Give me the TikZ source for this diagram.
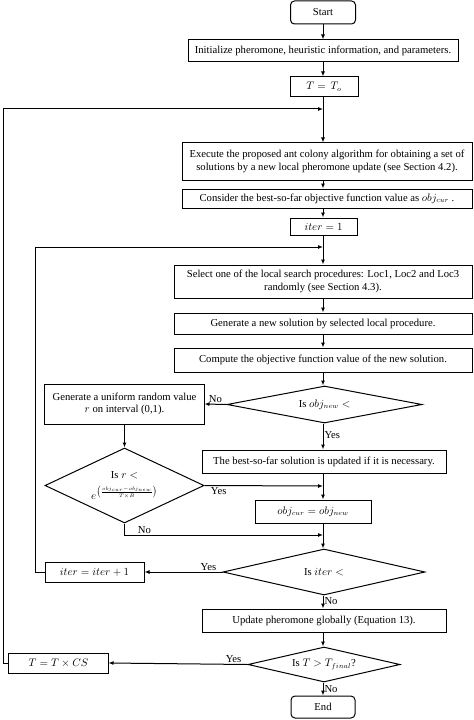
\documentclass[tikz,border=0pt]{standalone}
\usepackage{fontspec}
\setmainfont{Liberation Serif}
\usetikzlibrary{shapes.geometric,arrows.meta}
\begin{document}
\begin{tikzpicture}[x=1bp,y=-1bp,
  every node/.style={font=\fontsize{10.7}{12.5}\selectfont},
  box/.style={draw,line width=1bp,rectangle,inner sep=1bp,align=center},
  term/.style={box,rounded corners=4bp},
  dec/.style={draw,line width=1bp,diamond,inner sep=0pt,align=center},
  lab/.style={inner sep=1bp},
  conn/.style={line width=1bp,-{Latex[length=5bp,width=4bp]}},
  ln/.style={line width=1bp}]
\useasboundingbox (0,0) rectangle (474,720);
\node[term,minimum width=65bp,minimum height=23bp] (start) at (323,12.5) {Start};
\node[box,minimum width=270bp,minimum height=22bp] (init) at (323,51) {Initialize pheromone, heuristic information, and parameters.};
\node[box,minimum width=68bp,minimum height=20bp] (t0) at (324,87) {$T=\,T_o$};
\node[box,minimum width=290bp,minimum height=37bp] (exec) at (327,161.5) {Execute the proposed ant colony algorithm for obtaining a set of\\solutions by a new local pheromone update (see Section 4.2).};
\node[box,minimum width=290bp,minimum height=19bp] (cons) at (327,198.5) {Consider the best-so-far objective function value as $obj_{cur}$ .};
\node[box,minimum width=67bp,minimum height=17bp] (it1) at (323.5,226.5) {$iter=1$};
\node[box,minimum width=298bp,minimum height=33bp] (sel) at (323,281.5) {Select one of the local search procedures: Loc1, Loc2 and Loc3\\randomly (see Section 4.3).};
\node[box,minimum width=298bp,minimum height=21bp] (gen) at (323,323.5) {Generate a new solution by selected local procedure.};
\node[box,minimum width=298bp,minimum height=24bp] (comp) at (323,360) {Compute the objective function value of the new solution.};
\node[dec,aspect=5.3,minimum width=195bp,minimum height=37bp] (d1) at (324.5,404.5) {Is $obj_{new}<$};
\node[box,minimum width=159bp,minimum height=40bp] (uni) at (124.5,404) {Generate a uniform random value\\$r$ on interval (0,1).};
\node[dec,aspect=2.1,minimum width=159bp,minimum height=75bp] (d2) at (124.5,485.5) {Is $r<$\\[6bp]$e^{\left(\frac{obj_{cur}-obj_{new}}{\rule{0pt}{5bp}T\times B}\right)}$};
\node[box,minimum width=244bp,minimum height=23bp] (best) at (324,461.5) {The best-so-far solution is updated if it is necessary.};
\node[box,minimum width=116bp,minimum height=23bp] (oc) at (313,511.5) {$obj_{cur}=obj_{new}$};
\node[dec,aspect=4.4,minimum width=202bp,minimum height=46bp] (d3) at (324,572) {Is $iter<$};
\node[box,minimum width=99bp,minimum height=20bp] (itp) at (94.5,572) {$iter=iter+1$};
\node[box,minimum width=244bp,minimum height=23bp] (upd) at (324,620.5) {Update pheromone globally (Equation 13).};
\node[dec,aspect=4.3,minimum width=152bp,minimum height=35bp] (d4) at (324,664.5) {Is $T>T_{final}$?};
\node[box,minimum width=99bp,minimum height=20bp] (tcs) at (58.5,663) {$T=T\times CS$};
\node[term,minimum width=64bp,minimum height=22bp] (end) at (323,707) {End};
% coordinates
\coordinate (j1) at (323,109);
\coordinate (j2) at (323,247);
\coordinate (j3) at (323,486);
\coordinate (j4) at (323,535);
\coordinate (l1) at (3,663);
\coordinate (l1t) at (3,109);
\coordinate (l2) at (35,572);
\coordinate (l2t) at (35,247);
\coordinate (d2b) at (124.5,535);
% main flow
\draw[conn] (start.south -| j1) -- (init.north -| j1);
\draw[conn] (init.south -| j1) -- (t0.north -| j1);
\draw[conn] (t0.south -| j1) -- (exec.north -| j1);
\draw[conn] (exec.south -| j1) -- (cons.north -| j1);
\draw[conn] (cons.south -| j1) -- (it1.north -| j1);
\draw[conn] (it1.south -| j1) -- (sel.north -| j1);
\draw[conn] (sel.south -| j1) -- (gen.north -| j1);
\draw[conn] (gen.south -| j1) -- (comp.north -| j1);
\draw[conn] (comp.south -| j1) -- (d1.north -| j1);
\draw[conn] (d1.west) -- (uni.east) node[lab,pos=0.5,above] {No};
\draw[conn] (d1.south -| j1) -- node[lab,right,pos=0.45] {Yes} (best.north -| j1);
\draw[conn] (uni.south) -- (d2.north);
\draw[conn] (d2.east) -- node[lab,below,pos=0.12] {Yes} (j3);
\draw[conn] (best.south -| j1) -- (oc.north -| j1);
\draw[conn] (d2.south) -- (d2b) -- node[lab,above,pos=0.1] {No} (j4);
\draw[conn] (oc.south -| j1) -- (d3.north -| j1);
\draw[conn] (d3.west) -- node[lab,above,pos=0.18] {Yes} (itp.east);
\draw[conn] (itp.west) -- (l2) -- (l2t) -- (j2);
\draw[conn] (d3.south -| j1) -- node[lab,right,pos=0.45] {No} (upd.north -| j1);
\draw[conn] (upd.south -| j1) -- (d4.north -| j1);
\draw[conn] (d4.west) -- node[lab,above,pos=0.1] {Yes} (tcs.east);
\draw[conn] (tcs.west) -- (l1) -- (l1t) -- (j1);
\draw[conn] (d4.south -| j1) -- node[lab,right,pos=0.5] {No} (end.north -| j1);
\end{tikzpicture}
\end{document}
